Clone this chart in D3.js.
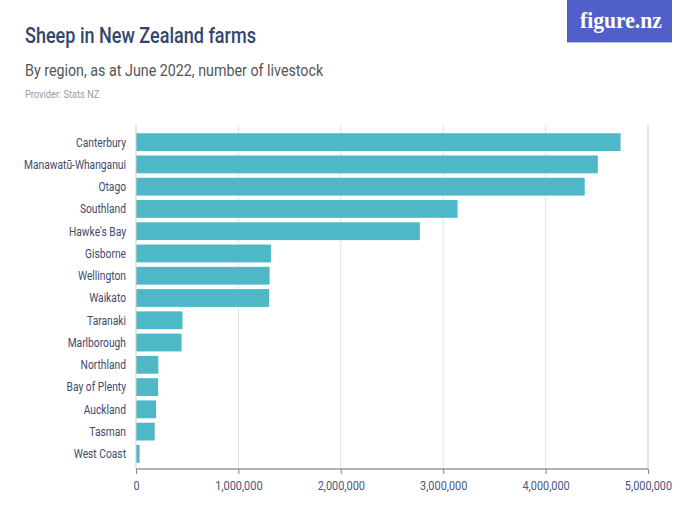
<!DOCTYPE html>
<html>
<head>
<meta charset="utf-8">
<script src="https://cdn.jsdelivr.net/npm/d3@7"></script>
<style>
  body { margin: 0; background: #fff; }
  text { font-family: "Roboto", "Liberation Sans", sans-serif; }
</style>
</head>
<body>
<svg width="700" height="525"></svg>
<script>
var regions = ["Canterbury", "Manawatū-Whanganui", "Otago", "Southland", "Hawke's Bay",
  "Gisborne", "Wellington", "Waikato", "Taranaki", "Marlborough", "Northland",
  "Bay of Plenty", "Auckland", "Tasman", "West Coast"];
var sheep = [4732000, 4510000, 4382000, 3140000, 2772000,
  1318000, 1305000, 1300000, 454000, 445000, 218000,
  216000, 196000, 183000, 35000];
var ticks = [0, 1000000, 2000000, 3000000, 4000000, 5000000];

var svg = d3.select("svg"),
    width = +svg.attr("width"),
    height = +svg.attr("height");

var margin = {top: 125, left: 136, right: 52, bottom: 56};

var x = d3.scaleLinear()
    .domain([0, 5000000])
    .range([margin.left, width - margin.right]);

var y = d3.scaleBand()
    .domain(regions)
    .range([131, 465])
    .paddingInner(0.2)
    .paddingOuter(0.1);

var axisY = height - margin.bottom;

// the reference uses a condensed face, squeeze Roboto to imitate it
function condense(sel, k) {
  sel.each(function() {
    var w = this.getComputedTextLength();
    d3.select(this)
      .attr("textLength", w * k)
      .attr("lengthAdjust", "spacingAndGlyphs");
  });
}

// header
svg.append("text")
    .attr("x", 25).attr("y", 43)
    .attr("font-size", 22)
    .attr("font-weight", 500)
    .attr("fill", "#34466a")
    .text("Sheep in New Zealand farms")
    .call(condense, 0.82);

svg.append("text")
    .attr("x", 25).attr("y", 76)
    .attr("font-size", 17)
    .attr("fill", "#555")
    .text("By region, as at June 2022, number of livestock")
    .call(condense, 0.84);

svg.append("text")
    .attr("x", 25).attr("y", 98)
    .attr("font-size", 11)
    .attr("fill", "#9a9a9a")
    .text("Provider: Stats NZ")
    .call(condense, 0.84);

// logo
svg.append("rect")
    .attr("x", 567).attr("y", 0)
    .attr("width", 105).attr("height", 42)
    .attr("fill", "#5060c8");
svg.append("line")
    .attr("x1", 567).attr("x2", 672)
    .attr("y1", 42.5).attr("y2", 42.5)
    .attr("stroke", "#b8bfe8");
svg.append("text")
    .attr("x", 580).attr("y", 28)
    .attr("font-size", 24)
    .attr("font-weight", "bold")
    .attr("fill", "#fff")
    .style("font-family", "'Liberation Serif', 'DejaVu Serif', serif")
    .text("figure.nz")
    .call(condense, 0.9);

// gridlines
svg.append("g")
    .selectAll("line")
    .data(ticks.slice(1))
    .enter().append("line")
      .attr("x1", function(d) { return x(d); })
      .attr("x2", function(d) { return x(d); })
      .attr("y1", margin.top)
      .attr("y2", axisY)
      .attr("stroke", function(d, i) { return i == ticks.length - 2 ? "#cfcfcf" : "#e2e2e2"; })
      .attr("stroke-width", 1);

// bars
svg.append("g")
    .selectAll("rect")
    .data(regions)
    .enter().append("rect")
      .attr("x", x(0))
      .attr("y", function(d) { return y(d); })
      .attr("width", function(d, i) { return x(sheep[i]) - x(0); })
      .attr("height", y.bandwidth())
      .attr("fill", "#4fb8c6");

// region labels
svg.append("g")
    .selectAll("text")
    .data(regions)
    .enter().append("text")
      .attr("x", margin.left - 10)
      .attr("y", function(d) { return y(d) + y.bandwidth() / 2; })
      .attr("dy", "0.35em")
      .attr("text-anchor", "end")
      .attr("font-size", 12.5)
      .attr("fill", "#3e4a6c")
      .text(function(d) { return d; })
      .call(condense, 0.82);

// x axis
var xAxis = d3.axisBottom(x)
    .tickValues(ticks)
    .tickFormat(d3.format(","))
    .tickSize(5)
    .tickPadding(7);

var gx = svg.append("g")
    .attr("transform", "translate(0," + axisY + ")")
    .call(xAxis);
gx.select(".domain").attr("stroke", "#666").attr("d", "M" + x(0) + ",0H" + x(5000000));
gx.selectAll(".tick line").attr("stroke", "#888");
gx.selectAll(".tick text")
    .attr("font-size", 13)
    .attr("fill", "#4a5578")
    .style("font-family", "'Roboto', sans-serif")
    .call(condense, 0.84);

// y axis line
svg.append("line")
    .attr("x1", x(0)).attr("x2", x(0))
    .attr("y1", margin.top).attr("y2", axisY)
    .attr("stroke", "#cfcfcf");
</script>
</body>
</html>
